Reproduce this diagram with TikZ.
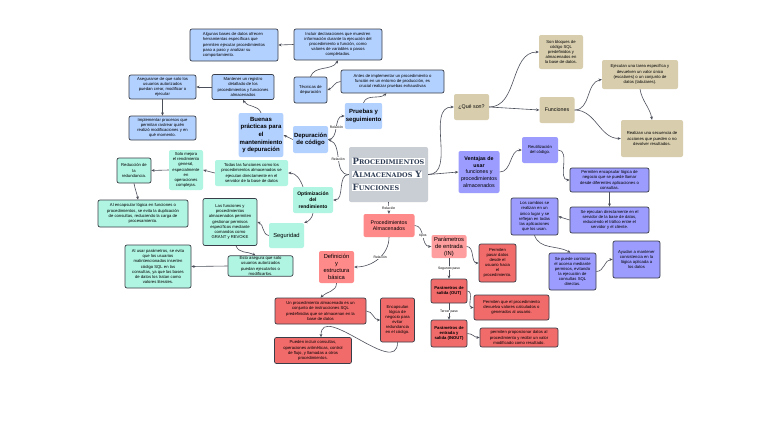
\documentclass[tikz,border=0pt]{standalone}
\usepackage{fontspec}
\setmainfont{Liberation Sans}
\newfontfamily\titlefont{DejaVu Serif}
\usetikzlibrary{arrows.meta}
\definecolor{mapblue}{HTML}{B3D1FF}
\definecolor{maptan}{HTML}{D8CEAE}
\definecolor{mappurple}{HTML}{9C9CFF}
\definecolor{mapsalmon}{HTML}{FF8A8A}
\definecolor{maplight}{HTML}{FF9E9E}
\definecolor{mapred}{HTML}{F26B6B}
\definecolor{mapaqua}{HTML}{B0F5E2}
\definecolor{mapgrey}{HTML}{C9CDD4}
\definecolor{maptitle}{HTML}{2F3E55}
\definecolor{mapline}{HTML}{4B4F5A}
\definecolor{mapedge}{HTML}{3A3E48}
\newcommand{\txt}{\fontsize{4.2}{5.1}\selectfont}
\newcommand{\hl}[1]{{\setlength{\fboxsep}{0.6pt}\colorbox{white}{#1}}}
\newcommand{\tsc}[1]{{\fontsize{6.4}{13}\selectfont #1}}

\begin{document}
\begin{tikzpicture}[x=1pt, y=1pt,
        box/.style={rectangle, rounded corners=2pt, align=center, inner sep=1pt, font=\txt},
        sz/.style 2 args={minimum width=#1pt, minimum height=#2pt},
        framed/.style={draw=mapedge, line width=0.7pt},
        head/.style={font=\fontsize{6}{7.6}\selectfont\bfseries},
        mid/.style={font=\fontsize{5.3}{6.6}\selectfont},
        arrow/.style={-{Stealth[length=3.2pt,width=2.8pt]}, line width=0.6pt, color=mapline},
        lbl/.style={fill=white, inner sep=0.4pt, font=\fontsize{3.4}{4}\selectfont, text=black}
      ]
        \useasboundingbox[fill=white] (0,0) rectangle (768,-439);
        % blue branch
        \node[box, framed, fill=mapblue, sz={88}{32}, align=left] (tools) at (234,-45) {Algunas bases de datos ofrecen\\herramientas específicas que\\permiten ejecutar procedimientos\\paso a paso y analizar su\\comportamiento.};
        \node[box, framed, fill=mapblue, sz={88}{31}] (prints) at (338,-44.5) {Incluir declaraciones que muestren\\información durante la ejecución del\\procedimiento o función, como\\valores de variables o pasos\\completados.};
        \node[box, framed, fill=mapblue, sz={67}{24}] (auth) at (162.5,-87) {Asegurarse de que solo los\\usuarios autorizados\\puedan crear, modificar o\\ejecutar};
        \node[box, framed, fill=mapblue, sz={62}{25}] (log) at (243,-87) {Mantener un registro\\detallado de los\\procedimientos y funciones\\almacenados};
        \node[box, framed, fill=mapblue, sz={33}{26}] (debugt) at (310.5,-90) {Técnicas de\\depuración};
        \node[box, framed, fill=mapblue, sz={103}{23}] (prodtest) at (392.5,-81.5) {Antes de implementar un procedimiento o\\función en un entorno de producción, es\\crucial realizar pruebas exhaustivas};
        \node[box, framed, fill=mapblue, sz={67}{24}] (audit) at (162.5,-128) {Implementar procesos que\\permitan rastrear quién\\realizó modificaciones y en\\qué momento.};
        \node[box, head, fill=mapblue, sz={44}{44}] (good) at (261,-135) {Buenas\\prácticas para\\el\\mantenimiento\\y depuración};
        \node[box, head, fill=mapblue, sz={35}{27}] (debug) at (310.5,-139.5) {Depuración\\de código};
        \node[box, head, fill=mapblue, sz={35}{26}] (tests) at (363.5,-116) {Pruebas y\\seguimiento};
        % centre
        \node[box, fill=mapgrey, sz={79}{55}, align=left, text=maptitle,
              font=\titlefont\bfseries\fontsize{8.6}{13}\selectfont] (main) at (388.5,-174.5)
              {\hl{P\tsc{ROCEDIMIENTOS}}\\\hl{A\tsc{LMACENADOS} Y}\\\hl{F\tsc{UNCIONES}}};
        % tan branch
        \node[box, mid, fill=maptan, sz={35}{26}] (what) at (471.5,-107) {¿Qué son?};
        \node[box, fill=maptan, sz={44}{34}] (blocks) at (561,-52) {Son bloques de\\código SQL\\predefinidos y\\almacenados en\\la base de datos.};
        \node[box, mid, fill=maptan, sz={35}{26}] (funcs) at (557,-110) {Funciones};
        \node[box, fill=maptan, sz={76}{29}] (scalar) at (640,-74.5) {Ejecutan una tarea específica y\\devuelven un valor único\\(escalares) o un conjunto de\\datos (tabulares).};
        \node[box, fill=maptan, sz={62}{37}] (actions) at (652,-138.5) {Realizan una secuencia de\\acciones que pueden o no\\devolver resultados.};
        % purple branch
        \node[box, mid, fill=mappurple, sz={41}{42}] (pros) at (479,-172) {\textbf{Ventajas de}\\\textbf{usar}\\funciones y\\procedimientos\\almacenados};
        \node[box, fill=mappurple, sz={36}{26}] (reuse) at (540,-150) {Reutilización\\del código.};
        \node[box, framed, fill=mappurple, sz={79}{24}] (encaps) at (609.5,-180) {Permiten encapsular lógica de\\negocio que se puede llamar\\desde diferentes aplicaciones o\\consultas.};
        \node[box, framed, fill=mappurple, sz={79}{26}] (server) at (609.5,-220) {Se ejecutan directamente en el\\servidor de la base de datos,\\reduciendo el tráfico entre el\\servidor y el cliente.};
        \node[box, framed, fill=mappurple, sz={47}{37}] (single) at (534.5,-216.5) {Los cambios se\\realizan en un\\único lugar y se\\reflejan en todas\\las aplicaciones\\que los usan.};
        \node[box, framed, fill=mappurple, sz={47}{37}] (access) at (572.5,-271.5) {Se puede controlar\\el acceso mediante\\permisos, evitando\\la ejecución de\\consultas SQL\\directas.};
        \node[box, framed, fill=mappurple, sz={47}{37}] (consist) at (636.5,-259.5) {Ayudan a mantener\\consistencia en la\\lógica aplicada a\\los datos};
        % red branch
        \node[box, mid, fill=mapsalmon, sz={51}{23}] (stored) at (389,-225.5) {Procedimientos\\Almacenados};
        \node[box, head, font=\fontsize{5.8}{7}\selectfont, fill=maplight, sz={35}{23}] (pin) at (449,-246.5) {Parámetros\\de entrada\\(IN)};
        \node[box, framed, fill=mapred, sz={37}{38}] (pininfo) at (497.5,-263) {Permiten\\pasar datos\\desde el\\usuario hacia\\el\\procedimiento.};
        \node[box, framed, fill=mapred, sz={36}{24}, font=\txt\bfseries] (pout) at (449,-291) {Parámetros de\\salida (OUT)};
        \node[box, framed, fill=mapred, sz={75}{25}] (poutinfo) at (511.5,-307.5) {Permiten que el procedimiento\\devuelva valores calculados o\\generados al usuario.};
        \node[box, framed, fill=mapred, sz={36}{27}, font=\txt\bfseries] (pinout) at (449,-333.5) {Parámetros de\\entrada y\\salida (INOUT)};
        \node[box, framed, fill=mapred, sz={78}{19}] (pinoutinfo) at (519,-337.5) {permiten proporcionar datos al\\procedimiento y recibir un valor\\modificado como resultado.};
        \node[box, mid, font=\fontsize{5.8}{7}\selectfont, fill=mapsalmon, sz={35}{32}] (defn) at (336.5,-267) {Definición\\y\\estructura\\básica};
        \node[box, framed, fill=mapred, sz={91}{26}] (sqlset) at (320.5,-311) {Un procedimiento almacenado es un\\conjunto de instrucciones SQL\\predefinidas que se almacenan en la\\base de datos};
        \node[box, framed, fill=mapred, sz={34}{44}] (bizlogic) at (397.5,-320) {Encapsulan\\lógica de\\negocio para\\evitar\\redundancia\\en el código.};
        \node[box, framed, fill=mapred, sz={77}{26}] (content) at (313,-350.5) {Pueden incluir consultas,\\operaciones aritméticas, control\\de flujo, y llamadas a otros\\procedimientos.};
        % aqua branch
        \node[box, fill=mapaqua, sz={40}{26}, font=\fontsize{5}{6.4}\selectfont\bfseries] (perf) at (313,-200) {Optimización\\del\\rendimiento};
        \node[box, fill=mapaqua, sz={73}{26}] (alldb) at (251.5,-173) {Todas las funciones como los\\procedimientos almacenados se\\ejecutan directamente en el\\servidor de la base de datos};
        \node[box, fill=mapaqua, sz={34}{40}] (onlyperf) at (186,-170) {Solo mejora\\el rendimiento\\general,\\especialmente\\en\\operaciones\\complejas.};
        \node[box, framed, fill=mapaqua, sz={34}{25}] (redund) at (134,-170.5) {Reducción de\\la\\redundancia.};
        \node[box, framed, fill=mapaqua, sz={90}{27}] (dedup) at (143,-213.5) {Al encapsular lógica en funciones o\\procedimientos, se evita la duplicación\\de consultas, reduciendo la carga de\\procesamiento.};
        \node[box, framed, fill=mapaqua, sz={54}{47}] (grant) at (230,-222) {Las funciones y\\procedimientos\\almacenados permiten\\gestionar permisos\\específicos mediante\\comandos como\\GRANT y REVOKE};
        \node[box, mid, font=\fontsize{5.8}{7}\selectfont, fill=mapaqua, sz={35}{25}] (security) at (286.5,-235.5) {Seguridad};
        \node[box, framed, fill=mapaqua, sz={65}{19}] (authexec) at (260.5,-266) {Esto asegura que solo\\usuarios autorizados\\puedan ejecutarlos o\\modificarlos.};
        \node[box, framed, fill=mapaqua, sz={66}{43}] (inject) at (158,-266.5) {Al usar parámetros, se evita\\que los usuarios\\malintencionados inserten\\código SQL en las\\consultas, ya que las bases\\de datos los tratan como\\valores literales.};
        % connectors
        \draw[arrow] (main.west) to[out=180,in=-20] node[lbl, pos=.5]{Relación} (debug.east);
        \draw[arrow] (debug.east) to[out=0,in=180] node[lbl]{Relación} (tests.west);
        \draw[arrow] (debug.west) -- (good.east);
        \draw[arrow] (good.north) to[out=110,in=-60] (log.south);
        \draw[arrow] (log.west) -- (auth.east);
        \draw[arrow] (auth.south) -- (audit.north);
        \draw[arrow] (tests.north) to[out=70,in=-140] ([xshift=-6pt]prodtest.south);
        \draw[arrow] (prodtest.west) to[out=180,in=20] (debugt.east);
        \draw[arrow] (debugt.north) to[out=70,in=-120] (prints.south);
        \draw[arrow] (prints.west) -- (tools.east);
        \draw[arrow] (main.east) to[out=0,in=180] (what.west);
        \draw[arrow] (main.east) -- (pros.west);
        \draw[arrow] (what.east) to[out=0,in=180] (blocks.west);
        \draw[arrow] (what.east) -- (funcs.west);
        \draw[arrow] (funcs.east) to[out=0,in=190] ([yshift=-5pt]scalar.west);
        \draw[arrow] (funcs.east) to[out=0,in=180] (actions.west);
        \draw[arrow] (scalar.south) to[out=-80,in=100] (actions.north);
        \draw[arrow] (pros.east) to[out=0,in=180] (reuse.west);
        \draw[arrow] (reuse.east) to[out=0,in=180] (encaps.west);
        \draw[arrow] (encaps.south) -- (server.north);
        \draw[arrow] (server.west) -- (single.east);
        \draw[arrow] (single.south) to[out=-70,in=150] ([xshift=-2pt]access.north);
        \draw[arrow] (access.east) to[out=0,in=180] (consist.west);
        \draw[arrow] (main.west) to[out=180,in=0] (perf.east);
        \draw[arrow] ([xshift=-10pt]perf.north) to[out=110,in=0] (alldb.east);
        \draw[arrow] (alldb.west) -- (onlyperf.east);
        \draw[arrow] (onlyperf.west) -- (redund.east);
        \draw[arrow] (redund.south) to[out=-80,in=100] ([xshift=-5pt]dedup.north);
        \draw[arrow] (perf.south) to[out=-100,in=20] (security.north east);
        \draw[arrow] (security.west) to[out=170,in=-20] (grant.east);
        \draw[arrow] ([xshift=6pt]grant.south) to[out=-70,in=150] ([xshift=-5pt]authexec.north);
        \draw[arrow] (authexec.west) -- (inject.east);
        \draw[arrow] (main.south) -- node[lbl]{Relación} (stored.north);
        \draw[arrow] (stored.south) to[out=-90,in=0] node[lbl, pos=.45]{Relación} (defn.east);
        \draw[arrow] (stored.east) to[out=0,in=180] node[lbl]{tipos} (pin.west);
        \draw[arrow] (defn.south) to[out=-90,in=45] (sqlset.north);
        \draw[arrow] (sqlset.east) to[out=0,in=180] (bizlogic.west);
        \draw[arrow] (bizlogic.south) to[out=-90,in=90,looseness=1.2] ([xshift=8pt]content.north);
        \draw[arrow] (pin.east) to[out=0,in=180] (pininfo.west);
        \draw[arrow] (pin.south) -- node[lbl]{Segundo paso} (pout.north);
        \draw[arrow] (pout.east) to[out=0,in=180] (poutinfo.west);
        \draw[arrow] (pout.south) -- node[lbl]{Tercer paso} (pinout.north);
        \draw[arrow] (pinout.east) to[out=0,in=180] (pinoutinfo.west);
      \end{tikzpicture}
\end{document}
